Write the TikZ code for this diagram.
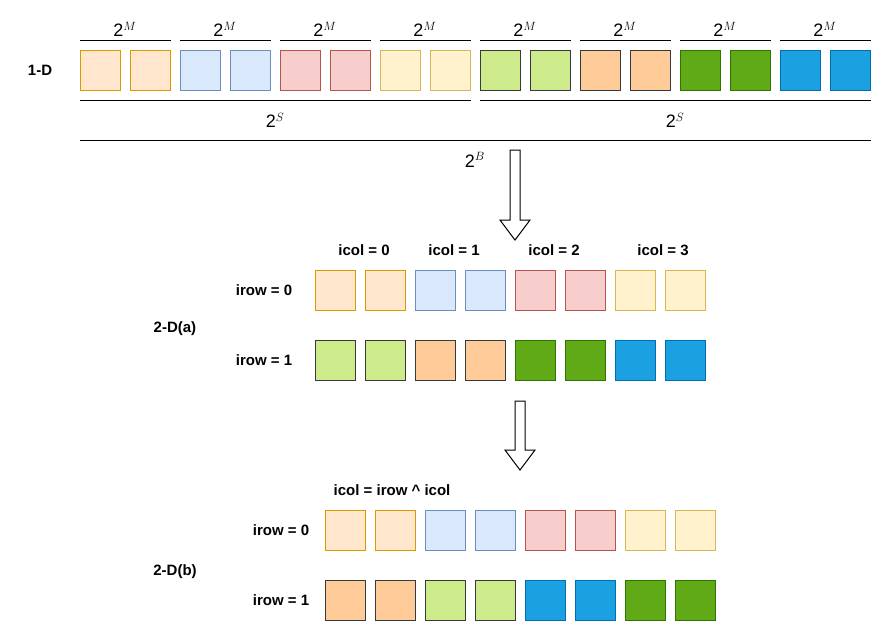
\documentclass[tikz,border=0pt]{standalone}
\usepackage{fontspec}
\setmainfont{Liberation Sans}
\usetikzlibrary{positioning}
\definecolor{f0}{HTML}{FFE6CC}\definecolor{d0}{HTML}{D79B00}
\definecolor{f1}{HTML}{DAE8FC}\definecolor{d1}{HTML}{6C8EBF}
\definecolor{f2}{HTML}{F8CECC}\definecolor{d2}{HTML}{B85450}
\definecolor{f3}{HTML}{FFF2CC}\definecolor{d3}{HTML}{D6B656}
\definecolor{f4}{HTML}{CDEB8B}\definecolor{d4}{HTML}{36393D}
\definecolor{f5}{HTML}{FFCC99}\definecolor{d5}{HTML}{36393D}
\definecolor{f6}{HTML}{60A917}\definecolor{d6}{HTML}{2D7600}
\definecolor{f7}{HTML}{1BA1E2}\definecolor{d7}{HTML}{006EAF}
\tikzset{
	cell/.style={draw,line width=1pt,minimum size=40pt,inner sep=0pt},
	k0/.style={cell,fill=f0,draw=d0},
	k1/.style={cell,fill=f1,draw=d1},
	k2/.style={cell,fill=f2,draw=d2},
	k3/.style={cell,fill=f3,draw=d3},
	k4/.style={cell,fill=f4,draw=d4},
	k5/.style={cell,fill=f5,draw=d5},
	k6/.style={cell,fill=f6,draw=d6},
	k7/.style={cell,fill=f7,draw=d7},
	lbl/.style={font=\fontsize{15}{17}\selectfont\bfseries,inner sep=0pt},
	pow/.style={font=\fontsize{18}{20}\selectfont,inner sep=0pt},
	blockarrow/.style={draw,line width=1pt,fill=white}
}
\begin{document}
\begin{tikzpicture}[x=1pt,y=-1pt]
	\useasboundingbox (0,0) rectangle (892,641);
	% 1-D
	\node[lbl] (L1) at (40,70) {1-D};
	\foreach \j in {0,...,15} {
		\pgfmathtruncatemacro\k{\j/2}
		\node[k\k] (A\j) at ({100+50*\j},70) {};
	}
	\foreach \i in {0,...,7} {
		\pgfmathtruncatemacro\a{2*\i}
		\pgfmathtruncatemacro\b{2*\i+1}
		\draw([yshift=9pt]A\a.north west)--([yshift=9pt]A\b.north east)
			node[midway,above=4pt,pow](M\i){2$^{M}$};
	}
	\draw([yshift=-10pt]A0.south west)--([yshift=-10pt]A7.south east)
		node[midway,pow,anchor=base,yshift=-27pt](S0){2$^{S}$};
	\draw([yshift=-10pt]A8.south west)--([yshift=-10pt]A15.south east)
		node[midway,pow,anchor=base,yshift=-27pt](S1){2$^{S}$};
	\draw([yshift=-50pt]A0.south west)--([yshift=-50pt]A15.south east);
	\node[pow] (PB) at (475,160) {2$^{B}$};
	\draw[blockarrow](510,150)--(520,150)--(520,220)--(530,220)--(515,240)--(500,220)--(510,220)--cycle;
	% 2-D(a)
	\node[lbl] (L2) at (175,329) {2-D(a)};
	\node[lbl] (R0) at (264,290) {irow = 0};
	\node[lbl] (R1) at (264,360) {irow = 1};
	\foreach \j in {0,...,7} {
		\pgfmathtruncatemacro\k{\j/2}
		\pgfmathtruncatemacro\m{\j/2+4}
		\node[k\k] (B\j) at ({335+50*\j},290) {};
		\node[k\m] (C\j) at ({335+50*\j},360) {};
	}
	\foreach \i/\x in {0/364,1/454,2/554,3/663}
		\node[lbl] (I\i) at (\x,250) {icol = \i};
	\draw[blockarrow](515,401)--(525,401)--(525,450)--(535,450)--(520,470)--(505,450)--(515,450)--cycle;
	% 2-D(b)
	\node[lbl] (L3) at (175,572) {2-D(b)};
	\node[lbl] (X) at (392,490) {icol = irow \string^ icol};
	\node[lbl] (Q0) at (281,530) {irow = 0};
	\node[lbl] (Q1) at (281,600) {irow = 1};
	\foreach \j in {0,...,7} {
		\pgfmathtruncatemacro\k{\j/2}
		\node[k\k] (D\j) at ({345+50*\j},530) {};
	}
	\foreach \j/\k in {0/5,1/5,2/4,3/4,4/7,5/7,6/6,7/6}
		\node[k\k] (E\j) at ({345+50*\j},600) {};
\end{tikzpicture}
\end{document}
